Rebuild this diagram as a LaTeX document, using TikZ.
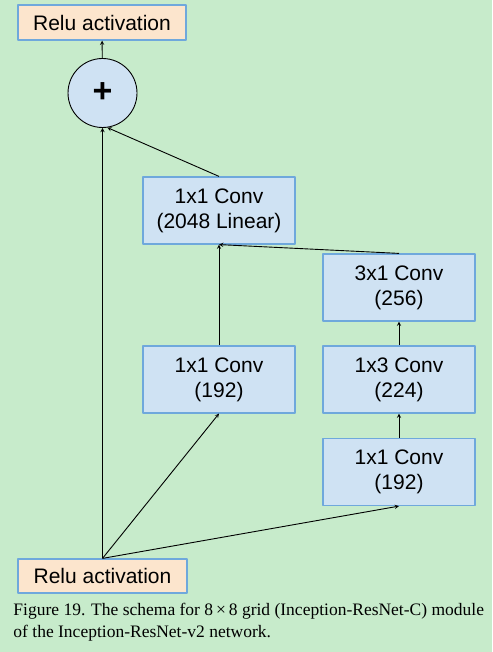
\documentclass[tikz,border=0pt]{standalone}
\usepackage{fontspec}
\setmainfont{Liberation Serif}
\newfontfamily\arialfont{Liberation Sans}
\definecolor{bggreen}{RGB}{199,235,203}
\definecolor{boxfill}{RGB}{207,226,243}
\definecolor{boxline}{RGB}{111,168,220}
\definecolor{relufill}{RGB}{252,229,205}
\begin{document}
\begin{tikzpicture}[x=1pt,y=-1pt, >=stealth, line join=round, line width=0.9pt,
		box/.style={draw=boxline, fill=boxfill, line width=1.2pt, minimum width=152pt, minimum height=67pt, align=center, inner sep=0pt, font=\arialfont\fontsize{21}{25}\selectfont},
		relu/.style={box, fill=relufill, minimum width=168pt, minimum height=35pt}]
		\fill[bggreen] (0,0) rectangle (492,652);
		\useasboundingbox (0,0) rectangle (492,652);
		% the module
		\node[relu] (relutop) at (102,22.5) {Relu activation};
		\node[circle, draw, fill=boxfill, minimum size=69pt, inner sep=0pt, font=\arialfont\bfseries\fontsize{34}{34}\selectfont] (add) at (102.5,93) {+};
		\node[box] (lin) at (219,210.5) {1x1 Conv\\(2048 Linear)};
		\node[box] (cthree) at (399,287.5) {3x1 Conv\\(256)};
		\node[box] (cleft) at (219,379.5) {1x1 Conv\\(192)};
		\node[box] (cmid) at (399,379.5) {1x3 Conv\\(224)};
		\node[box] (cright) at (399,472) {1x1 Conv\\(192)};
		\node[relu, minimum width=169pt, minimum height=34pt] (relubot) at (102.5,576) {Relu activation};
		\draw[->] (add) -- (relutop);
		\draw[->] (relubot.north) -- (add.south);
		\draw[->] (lin.north) -- (add.-82);
		\draw[->] (cleft) -- (lin);
		\draw[->] (cthree.north) -- (lin.south);
		\draw[->] (cmid) -- (cthree);
		\draw[->] (cright) -- (cmid);
		\draw[->] (relubot.north) -- (cleft.south);
		\draw[->] (relubot.north) -- (cright.south);
		% caption
		\node[anchor=north west, align=left, inner sep=0pt, font=\fontsize{17.5}{21.7}\selectfont] (caption) at (13,603) {Figure 19. The schema for 8\,×\,8 grid (Inception-ResNet-C) module\\of the Inception-ResNet-v2 network.};
\end{tikzpicture}
\end{document}
